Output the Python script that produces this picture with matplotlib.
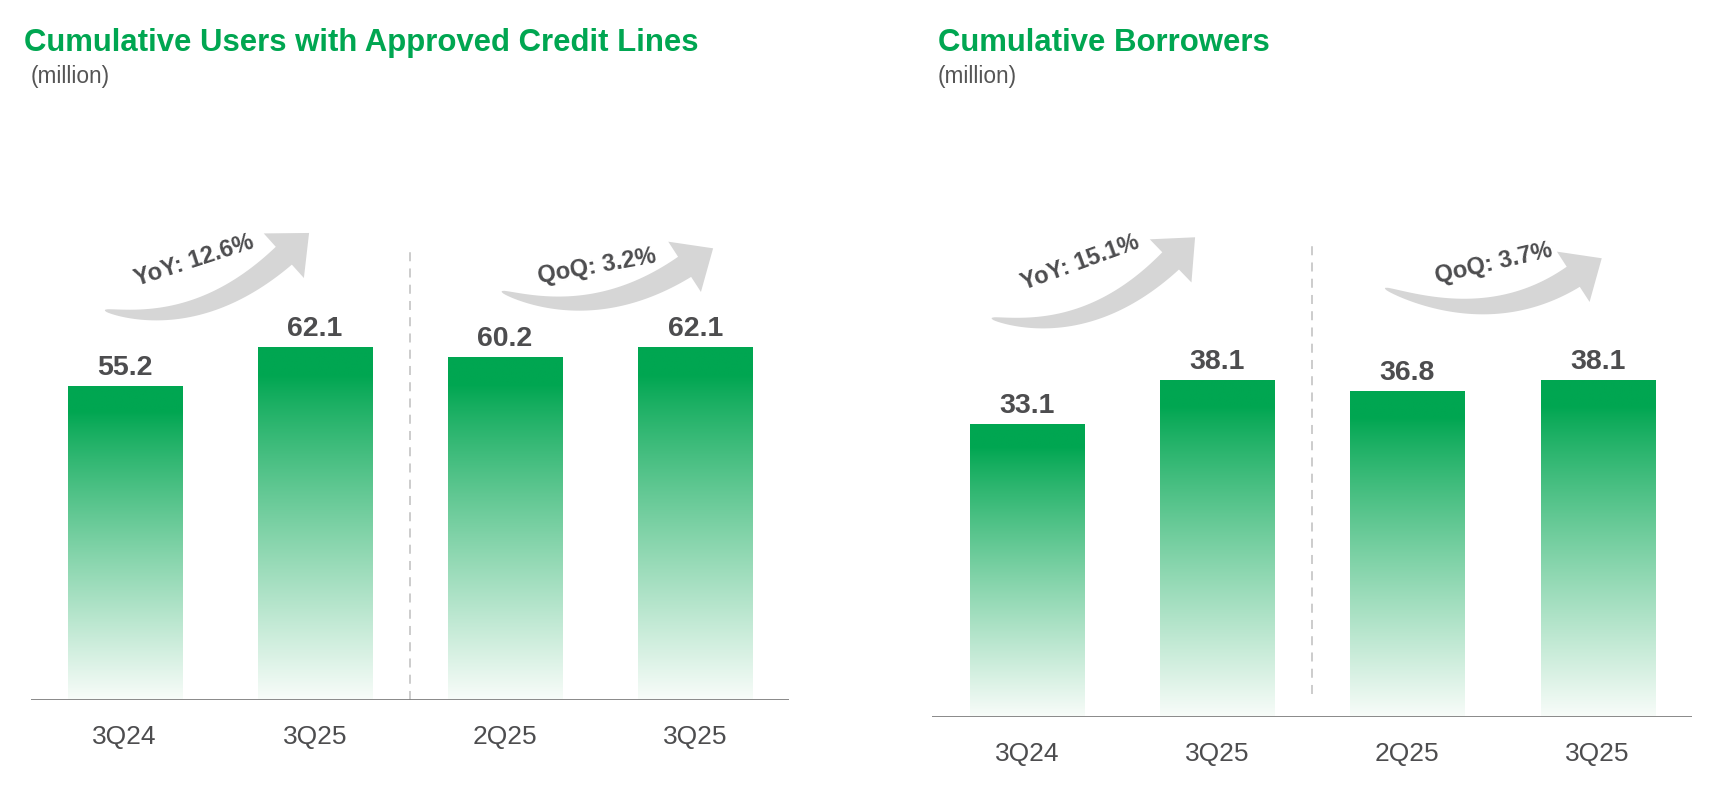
import matplotlib
matplotlib.use("Agg")
import matplotlib.pyplot as plt
import numpy as np
from matplotlib.patches import Polygon
from matplotlib.transforms import IdentityTransform

quarters = ["3Q24", "3Q25", "2Q25", "3Q25"]
credit_line_users = [55.2, 62.1, 60.2, 62.1]
borrowers = [33.1, 38.1, 36.8, 38.1]
credit_growth = ["YoY: 12.6%", "QoQ: 3.2%"]
borrower_growth = ["YoY: 15.1%", "QoQ: 3.7%"]

FONT = ["Liberation Sans", "DejaVu Sans"]
GREEN = "#00A651"
TEXT = "#4d4d4f"
ARROW = "#d6d6d6"


def bar_gradient():
    t = np.linspace(0, 1, 256)[:, None]
    fade = np.clip((t - 0.08) / 0.92, 0, 1) ** 0.9
    top = np.array([0, 166, 81]) / 255
    bottom = np.array([248, 252, 249]) / 255
    rgb = top * (1 - fade) + bottom * fade
    return rgb[:, None, :]


def growth_arrow(ax, tail, tip, tail_angle, head_angle,
                 head_len=34, head_half=30, body_half=12):
    # curved block arrow, built in pixel space so the shape keeps its proportions
    T = ax.transData.transform(tail)
    H = ax.transData.transform(tip)
    a0, a1 = np.radians(tail_angle), np.radians(head_angle)
    d0 = np.array([np.cos(a0), np.sin(a0)])
    e = np.array([np.cos(a1), np.sin(a1)])
    P1 = H - e * head_len
    # control point: where the tail direction meets the head direction
    A = np.column_stack([d0, e])
    s, _ = np.linalg.solve(A, P1 - T)
    C = T + d0 * s
    t = np.linspace(0, 1, 100)[:, None]
    B = (1 - t) ** 2 * T + 2 * (1 - t) * t * C + t ** 2 * P1
    dB = 2 * (1 - t) * (C - T) + 2 * t * (P1 - C)
    dB /= np.hypot(dB[:, 0], dB[:, 1])[:, None]
    nor = np.column_stack([-dB[:, 1], dB[:, 0]])
    half = 0.5 + (body_half - 0.5) * t ** 0.55
    left = B + nor * half
    right = B - nor * half
    en = np.array([-e[1], e[0]])
    head = np.array([P1 + en * head_half, H, P1 - en * head_half])
    poly = np.vstack([left, head, right[::-1]])
    patch = Polygon(poly, closed=True, facecolor=ARROW, edgecolor="none", zorder=1)
    patch.set_transform(IdentityTransform())
    ax.add_patch(patch)


def draw_panel(ax, values, growth, ymax, arrows, texts, divider, xpad):
    x = np.arange(len(values))
    bars = ax.bar(x, values, width=0.6, facecolor="none", edgecolor="none")
    grad = bar_gradient()
    for b in bars:
        x0, h = b.get_x(), b.get_height()
        im = ax.imshow(grad, extent=[x0, x0 + b.get_width(), 0, h], origin="upper",
                       aspect="auto", zorder=2, interpolation="bilinear")
        im.set_clip_path(b)
    ax.set_xlim(-xpad, len(values) - 1 + xpad)
    ax.set_ylim(0, ymax)

    for xi, v in zip(x, values):
        ax.annotate(f"{v:.1f}", (xi, v), xytext=(0, 8), textcoords="offset points",
                    ha="center", va="baseline", fontsize=20.5, fontweight="bold",
                    color=TEXT, family=FONT)

    ax.plot([1.5, 1.5], divider, color="#c8c8c8", lw=1.3, ls=(0, (5, 4)), zorder=1)
    ax.axhline(0, color="#7f7f7f", lw=2, zorder=3)

    for (tail, tip, ta, ha_), (tx, ty, rot), label in zip(arrows, texts, growth):
        growth_arrow(ax, tail, tip, ta, ha_)
        ax.text(tx, ty, label, rotation=rot, rotation_mode="anchor", ha="center",
                va="center", fontsize=17, fontweight="bold", color=TEXT, family=FONT,
                zorder=4)

    ax.set_xticks(x)
    ax.set_xticklabels(quarters, fontsize=19, color=TEXT, family=FONT)
    ax.tick_params(axis="x", length=0, pad=18)
    ax.set_yticks([])
    for s in ax.spines.values():
        s.set_visible(False)


fig = plt.figure(figsize=(17.14, 7.97), dpi=100)
W, H = 1714, 797

ax1 = fig.add_axes([30.6 / W, 1 - 699.6 / H, 758.6 / W, (699.6 - 200) / H])
ax2 = fig.add_axes([932.4 / W, 1 - 717.1 / H, 759.7 / W, (717.1 - 200) / H])

draw_panel(ax1, credit_line_users, credit_growth, 87.9,
           arrows=[((-0.103, 68.5), (0.97, 82.1), -12, 42),
                   ((1.983, 71.8), (3.094, 79.4), -19, 33)],
           texts=[(0.365, 77.3, 18), (2.484, 76.2, 10)],
           divider=[0, 78.8], xpad=0.494)
draw_panel(ax2, borrowers, borrower_growth, 58.4,
           arrows=[((-0.185, 45.04), (0.884, 54.19), -12, 44),
                   ((1.883, 48.43), (3.022, 51.82), -21, 33)],
           texts=[(0.279, 51.3, 20), (2.456, 51.3, 13)],
           divider=[2.6, 53.2], xpad=0.497)

fig.text(24 / W, 1 - 43 / H, "Cumulative Users with Approved Credit Lines", fontsize=22.4,
         fontweight="bold", color=GREEN, family=FONT, va="center", ha="left")
fig.text(30.6 / W, 1 - 76 / H, "(million)", fontsize=16.3, color="#555555", family=FONT,
         va="center", ha="left")
fig.text(938 / W, 1 - 43 / H, "Cumulative Borrowers", fontsize=22.4,
         fontweight="bold", color=GREEN, family=FONT, va="center", ha="left")
fig.text(938 / W, 1 - 76 / H, "(million)", fontsize=16.3, color="#555555", family=FONT,
         va="center", ha="left")

fig.savefig("out.png", dpi=100, facecolor="white")
